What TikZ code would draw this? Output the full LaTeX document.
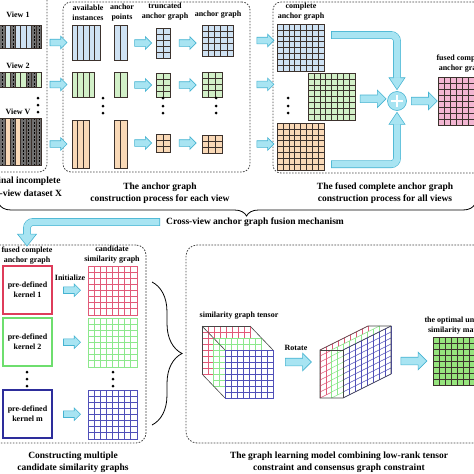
\documentclass[tikz,border=0pt]{standalone}
\usepackage{fontspec}
\setmainfont{Liberation Serif}
\usetikzlibrary{positioning, shapes.arrows, decorations.pathreplacing}

\definecolor{bluef}{RGB}{207,226,243}
\definecolor{greenf}{RGB}{210,240,200}
\definecolor{orangef}{RGB}{249,217,183}
\definecolor{pinkf}{RGB}{242,182,210}
\definecolor{vgray}{RGB}{112,112,112}
\definecolor{gline}{RGB}{60,50,45}
\definecolor{arrfill}{RGB}{168,228,242}
\definecolor{arrline}{RGB}{70,180,210}
\definecolor{dgray}{RGB}{70,70,70}
\definecolor{kred}{RGB}{222,60,90}
\definecolor{kgreen}{RGB}{110,222,110}
\definecolor{kblue}{RGB}{45,45,155}
\definecolor{lred}{RGB}{225,90,120}
\definecolor{lgreen}{RGB}{140,232,140}
\definecolor{lblue}{RGB}{80,80,185}
\definecolor{resf}{RGB}{150,228,125}

\tikzset{
  lab/.style={font=\bfseries\fontsize{8}{10}\selectfont, align=center, inner sep=1pt},
  captext/.style={font=\bfseries\fontsize{9.5}{12.5}\selectfont, align=center, inner sep=1pt},
  gridbox/.style={anchor=north west, inner sep=0pt, outer sep=0pt, line width=0.6pt},
  gridline/.style={line width=0.6pt},
  dbox/.style={draw=dgray, line width=0.8pt, dash pattern=on 1.6pt off 1.4pt, rounded corners=8pt, inner sep=0pt},
  colgray/.style={fill=vgray, path picture={\draw[black, line width=0.7pt, dash pattern=on 2pt off 1.5pt] (path picture bounding box.north) -- (path picture bounding box.south);}},
  colblue/.style={fill=bluef},
  colgreen/.style={fill=greenf},
  colorange/.style={fill=orangef},
  fatarrow/.style={single arrow, draw=arrline, fill=arrfill, line width=0.6pt, minimum height=17pt, inner xsep=0pt, inner ysep=3pt, single arrow head extend=3pt},
  bigarrow/.style={fatarrow, minimum height=26pt, inner ysep=3.5pt, single arrow head extend=5pt},
  fatbar/.style={draw=arrfill, line width=6.5pt, rounded corners=6pt, shorten <=0.6pt, preaction={draw=arrline, line width=7.7pt, shorten <=0pt}},
  kbox/.style={lab, draw, line width=1.4pt, minimum width=49pt, minimum height=48pt, inner sep=0pt},
  hullline/.style={draw=dgray, line width=0.6pt},
}

% grid matrix: name, x, y (from top), cols, rows, cell w, cell h, fill, lines
\newcommand{\gridmat}[9]{%
  \node[gridbox, fill=#8, draw=#9, minimum width=#4*#6pt, minimum height=#5*#7pt] (#1) at (#2,-#3) {};
  \foreach \k in {2,...,#4} \draw[#9, gridline] ({#2+(\k-1)*#6},-#3) -- ++(0,{-#5*#7});
  \foreach \k in {2,...,#5} \draw[#9, gridline] (#2,{-#3-(\k-1)*#7}) -- ++({#4*#6},0);
}
% striped matrix: name, x, y, cols, col w, height, column styles
\newcommand{\stripemat}[7]{%
  \foreach \c [count=\k from 0] in {#7} \path[\c] ({#2+\k*#5},-#3) rectangle ++(#5,-#6);
  \foreach \k in {2,...,#4} \draw[gline, gridline] ({#2+(\k-1)*#5},-#3) -- ++(0,-#6);
  \node[gridbox, draw=gline, minimum width=#4*#5pt, minimum height=#6pt] (#1) at (#2,-#3) {};
}
% sheared sheet of the rotated tensor: x left, colour
\newcommand{\sheet}[2]{%
  \fill[white] (#1,-350) -- (#1,-398) -- ++(48,24) -- ++(0,48) -- cycle;
  \foreach \k in {0,...,8} \draw[#2, gridline] ({#1+6*\k},{-350+3*\k}) -- ++(0,-48);
  \foreach \k in {0,...,8} \draw[#2, gridline] (#1,{-350-6*\k}) -- ++(48,24);
}
% arrow head of a bent bar: tip, rotation, half width, length
\newcommand{\fathead}[4]{%
  \begin{scope}[shift={(#1)}, rotate=#2]
    \fill[arrfill] (0,0) -- (-#4,#3) -- (-#4,-#3) -- cycle;
    \draw[arrline, line width=0.6pt, line join=miter] (-#4,3.25) -- (-#4,#3) -- (0,0) -- (-#4,-#3) -- (-#4,-3.25);
  \end{scope}}

\begin{document}
\begin{tikzpicture}[x=1pt, y=1pt]
  \path[use as bounding box, fill=white] (0,0) rectangle (474,-474);
  \clip (0,0) rectangle (474,-474);

  % dashed frames
  \node[dbox, minimum width=67pt, minimum height=182pt] (dbox0) at (13.5,-81) {};
  \node[dbox, minimum width=187pt, minimum height=170pt] (abox) at (156.5,-87) {};
  \node[dbox, minimum width=227pt, minimum height=171pt] (fbox) at (386.5,-87.5) {};
  \node[dbox, rounded corners=10pt, minimum width=166pt, minimum height=198pt] (kframe) at (63,-344) {};
  \node[dbox, rounded corners=11pt, minimum width=314pt, minimum height=198pt] (lbox) at (343,-344) {};

  % incomplete views
  \node[lab] (lv1) at (18,-15) {View 1};
  \node[lab] (lv2) at (18,-66) {View 2};
  \node[lab] (lvV) at (18,-112) {View V};
  \stripemat{v1}{-5.5}{25}{9}{5.25}{23}{colgray,colgray,colblue,colgray,colblue,colblue,colblue,colgray,colgray}
  \stripemat{v2}{-5.5}{72}{9}{5.25}{15}{colgray,colgray,colgreen,colgray,colgreen,colgreen,colgray,colgray,colgreen}
  \stripemat{vV}{-5.5}{118}{9}{5.25}{47}{colorange,colgray,colorange,colgray,colorange,colgray,colgray,colgray,colgray}
  \foreach \y in {98,105,112} \fill (38,-\y) circle (1.5);
  \node[captext] at (20,-187) {Original incomplete\\multi-view dataset X};

  % anchor graph of each view
  \node[lab] (lavail) at (88,-13) {available\\instances};
  \node[lab] (lanch) at (122,-13) {anchor\\points};
  \node[lab] (ltrunc) at (165,-12) {truncated\\anchor graph};
  \node[lab] (lag) at (218,-15) {anchor graph};
  \stripemat{av1}{72}{25}{5}{5.6}{35}{colblue,colblue,colblue,colblue,colblue}
  \stripemat{av2}{72}{72}{4}{5.6}{25}{colgreen,colgreen,colgreen,colgreen}
  \stripemat{avV}{72}{120}{3}{5.6}{48}{colorange,colorange,colorange}
  \stripemat{ap1}{114}{25}{2}{6.5}{35}{colblue,colblue}
  \stripemat{ap2}{114}{72}{2}{6.5}{25}{colgreen,colgreen}
  \stripemat{apV}{114}{120}{2}{6.5}{48}{colorange,colorange}
  \gridmat{tr1}{156}{28}{2}{5}{7}{6}{bluef}{gline}
  \gridmat{tr2}{156}{73}{2}{4}{7}{6}{greenf}{gline}
  \gridmat{trV}{156}{134}{2}{3}{7}{6}{orangef}{gline}
  \gridmat{ag1}{202}{25}{5}{5}{6.2}{6.2}{bluef}{gline}
  \gridmat{ag2}{202}{72}{3}{4}{6.7}{6.2}{greenf}{gline}
  \gridmat{agV}{202}{135}{3}{3}{6.7}{6}{orangef}{gline}
  \foreach \x in {103,163,216,288}
    \foreach \y in {98,106,113} \fill (\x,-\y) circle (1.5);
  \node[captext] at (160,-193) {The anchor graph\\construction process for each view};

  % complete and fused anchor graphs
  \node[lab] (lcomp) at (301,-12) {complete\\anchor graph};
  \gridmat{cb}{277}{24}{8}{8}{5.9}{5.9}{bluef}{gline}
  \gridmat{cg}{308}{73}{8}{8}{5.9}{5.9}{greenf}{gline}
  \gridmat{co}{277}{123}{8}{8}{5.9}{5.9}{orangef}{gline}
  \node[circle, draw=arrline, fill=arrfill, line width=0.6pt, minimum size=19pt, inner sep=0pt] (plus) at (397,-101) {};
  \draw[white, line width=2.2pt] ([xshift=-6pt]plus.center) -- ([xshift=6pt]plus.center);
  \draw[white, line width=2.2pt] ([yshift=-6pt]plus.center) -- ([yshift=6pt]plus.center);
  \node[lab] (lfused) at (462,-64) {fused complete\\anchor graph};
  \gridmat{fused}{438}{77}{8}{8}{6}{6}{pinkf}{gline}
  \node[captext] at (385,-193) {The fused complete anchor graph\\construction process for all views};

  % arrows of the top part
  \path (v1.east |- av1.west) -- (av1.west) node[midway, fatarrow] {};
  \path (v2.east |- av2.west) -- (av2.west) node[midway, fatarrow] {};
  \path (vV.east |- avV.west) -- (avV.west) node[midway, fatarrow] {};
  \path (ap1.east |- tr1.west) -- (tr1.west) node[midway, fatarrow] {};
  \path (ap2.east |- tr2.west) -- (tr2.west) node[midway, fatarrow] {};
  \path (apV.east |- trV.west) -- (trV.west) node[midway, fatarrow] {};
  \path (tr1.east) -- (tr1.east -| ag1.west) node[midway, fatarrow] {};
  \path (tr2.east) -- (tr2.east -| ag2.west) node[midway, fatarrow] {};
  \path (trV.east) -- (trV.east -| agV.west) node[midway, fatarrow] {};
  \path (abox.east |- ag1.east) -- (cb.west |- ag1.east) node[midway, fatarrow] {};
  \path (abox.east |- ag2.east) -- (cb.west |- ag2.east) node[midway, fatarrow] {};
  \path (abox.east |- agV.east) -- (cb.west |- agV.east) node[midway, fatarrow] {};
  \draw[fatbar] ([shift={(7,-11)}]cb.north east) -| ([yshift=13.5pt]plus.north);
  \fathead{[yshift=1.5pt]plus.north}{-90}{8}{12}
  \draw[fatbar] ([shift={(7,6)}]co.south east) -| ([yshift=-13.5pt]plus.south);
  \fathead{[yshift=-1.5pt]plus.south}{90}{8}{12}
  \path (cg.east) -- (plus.west) node[midway, bigarrow] {};
  \path (plus.east) -- (plus.east -| fused.west) node[midway, bigarrow] {};

  % fusion mechanism
  \draw[decorate, decoration={brace, amplitude=12pt, mirror, aspect=0.52}, line width=0.8pt] (-1,-204) -- (475,-204);
  \node[captext, anchor=west, inner sep=0pt] (cvl) at (166,-222) {Cross-view anchor graph fusion mechanism};
  \node[lab, fill=white] (fcag) at (27,-256) {fused complete\\anchor graph};
  \draw[fatbar] ([xshift=-6pt]cvl.west) -| ([yshift=12pt]fcag.north);
  \fathead{fcag.north}{-90}{9.5}{12}

  % candidate similarity graphs
  \node[lab] (lcand) at (112,-255) {candidate\\similarity graph};
  \node[lab] (linit) at (70,-278) {Initialize};
  \node[kbox, draw=kred] (k1) at (27.5,-290) {pre-defined\\kernel 1};
  \node[kbox, draw=kgreen] (k2) at (27.5,-342) {pre-defined\\kernel 2};
  \node[kbox, draw=kblue] (k3) at (27.5,-414) {pre-defined\\kernel m};
  \gridmat{c1}{88}{266}{8}{8}{6.1}{6.1}{white}{lred}
  \gridmat{c2}{88}{318}{8}{8}{6.1}{6.1}{white}{lgreen}
  \gridmat{c3}{88}{390}{8}{8}{6.1}{6.1}{white}{lblue}
  \path (k1.east) -- (c1.west) node[midway, fatarrow] {};
  \path (k2.east) -- (c2.west) node[midway, fatarrow] {};
  \path (k3.east) -- (c3.west) node[midway, fatarrow] {};
  \foreach \x in {27,113}
    \foreach \y in {372,379,386} \fill (\x,-\y) circle (1.5);
  \node[captext] at (73,-462) {Constructing multiple\\candidate similarity graphs};
  \draw[decorate, decoration={brace, amplitude=30pt}, line width=0.8pt] (152,-282) -- (152,-425);

  % tensor and its rotation
  \node[lab] (lten) at (239,-316) {similarity graph tensor};
  \gridmat{sr}{202}{326}{8}{8}{6}{6}{white}{lred}
  \gridmat{sg}{213}{338}{8}{8}{6}{6}{white}{lgreen}
  \gridmat{sb}{225}{350}{8}{8}{6}{6}{white}{lblue}
  \draw[hullline] (sr.north west) -- (sb.north west);
  \draw[hullline] (sr.north east) -- (sb.north east);
  \draw[hullline] (sr.south west) -- (sb.south west);
  \draw[hullline] (sr.south west) -- (sr.north west) -- (sr.north east);
  \node[lab] (lrot) at (296,-348) {Rotate};
  \sheet{320}{lred}
  \sheet{331.5}{lgreen}
  \sheet{343}{lblue}
  \draw[hullline] (320,-398) -- (343,-398) -- (391,-374) -- (391,-326) -- (368,-326) -- (320,-350) -- cycle;
  \draw[hullline] (320,-350) -- (343,-350) -- (343,-398);
  \draw[hullline] (343,-350) -- (391,-326);
  \coordinate (rotW) at (320,-362);
  \coordinate (rotE) at (391,-361);
  \path (sb.east |- rotW) -- (rotW) node[midway, bigarrow] {};
  \node[lab] (lopt) at (457,-326) {the optimal unified\\similarity matrix};
  \gridmat{res}{433}{337}{8}{8}{6}{6}{resf}{gline}
  \path (rotE) -- (rotE -| res.west) node[midway, bigarrow] {};
  \node[captext] at (339,-462) {The graph learning model combining low-rank tensor\\constraint and consensus graph constraint};
\end{tikzpicture}
\end{document}
